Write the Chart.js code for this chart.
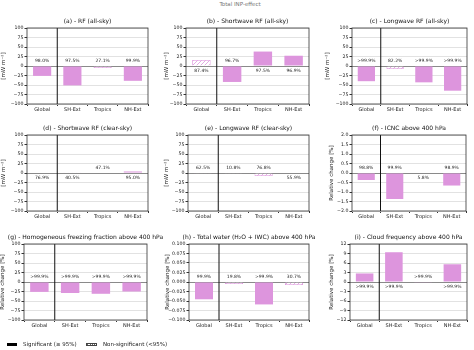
<!DOCTYPE html>
<html lang="en">
<head>
<meta charset="UTF-8">
<title>Total INP-effect</title>
<script src="https://cdn.jsdelivr.net/npm/chart.js"></script>
<style>
  body { margin: 0; background: #fff; font-family: 'DejaVu Sans', sans-serif; }
  #fig { position: relative; width: 474px; height: 350px; overflow: hidden; }
  #fig canvas { position: absolute; left: 0; }
  #suptitle { position: absolute; top: 1px; left: 3px; width: 474px; text-align: center; font-size: 5.5px; color: #777; }
  .leg { position: absolute; top: 341px; font-size: 5.5px; color: #222; display: flex; align-items: center; }
  .sw { width: 10px; height: 3px; margin-right: 6px; box-sizing: border-box; }
</style>
</head>
<body>
<div id="fig">
  <div id="suptitle">Total INP-effect</div>
  <canvas id="pa" width="474" height="102"></canvas>
  <canvas id="pb" width="474" height="102"></canvas>
  <canvas id="pc" width="474" height="102"></canvas>
  <canvas id="pd" width="474" height="102"></canvas>
  <canvas id="pe" width="474" height="102"></canvas>
  <canvas id="pf" width="474" height="102"></canvas>
  <canvas id="pg" width="474" height="102"></canvas>
  <canvas id="ph" width="474" height="102"></canvas>
  <canvas id="pi" width="474" height="102"></canvas>
  <div class="leg" style="left:7px"><div class="sw" style="background:#000"></div>Significant (≥ 95%)</div>
  <div class="leg" style="left:86px"><div class="sw" style="width:11px;border:0.5px solid #444;background:repeating-linear-gradient(-45deg,#fff 0 1px,#666 1px 1.6px)"></div>Non-significant (&lt;95%)</div>
</div>

<script>
  const regions = ['Global', 'SH-Ext', 'Tropics', 'NH-Ext'];

  // (a) - (e) radiative forcing [mW m-2]
  const rfAll = [-26, -51, -5, -39];
  const rfAllPct = ['98.0%', '97.5%', '27.1%', '99.9%'];
  const swAll = [16, -42, 38, 27];
  const swAllPct = ['87.4%', '96.7%', '97.5%', '96.9%'];
  const lwAll = [-40, -8, -43, -65];
  const lwAllPct = ['>99.9%', '82.2%', '>99.9%', '>99.9%'];
  const swClear = [1.5, 0.6, -1, 4];
  const swClearPct = ['76.9%', '40.5%', '47.1%', '95.0%'];
  const lwClear = [-2, -0.5, -8, 1];
  const lwClearPct = ['62.5%', '10.8%', '76.8%', '55.9%'];

  // (f) - (i) relative change [%]
  const icnc = [-0.37, -1.37, 0.02, -0.66];
  const icncPct = ['98.8%', '99.9%', '5.8%', '98.9%'];
  const homFrac = [-26, -29, -31, -25];
  const homFracPct = ['>99.9%', '>99.9%', '>99.9%', '>99.9%'];
  const totWater = [-0.0455, -0.005, -0.059, -0.008];
  const totWaterPct = ['99.9%', '19.8%', '>99.9%', '30.7%'];
  const cloudFreq = [2.7, 9.4, -0.2, 5.6];
  const cloudFreqPct = ['>99.9%', '>99.9%', '>99.9%', '>99.9%'];

  const barColor = '#dd95dd';
  const rfUnit = '[mW m\u207B\u00B2]';
  const relUnit = 'Relative change [%]';

  function hatch() {
    const c = document.createElement('canvas');
    c.width = 4; c.height = 4;
    const g = c.getContext('2d');
    g.fillStyle = '#fff';
    g.fillRect(0, 0, 4, 4);
    g.strokeStyle = barColor;
    g.lineWidth = 0.8;
    g.beginPath();
    g.moveTo(0, 4); g.lineTo(4, 0);
    g.moveTo(-1, 1); g.lineTo(1, -1);
    g.moveTo(3, 5); g.lineTo(5, 3);
    g.stroke();
    return g.createPattern(c, 'repeat');
  }
  const hatchFill = hatch();

  const panelDeco = {
    id: 'panelDeco',
    afterDatasetsDraw(chart, args, opts) {
      const { ctx, chartArea: a, scales: { x, y } } = chart;
      const vals = chart.data.datasets[0].data;
      const y0 = y.getPixelForValue(0);
      ctx.save();
      ctx.textAlign = 'center';
      ctx.textBaseline = 'middle';
      ctx.fillStyle = '#222';
      ctx.font = '4.5px "DejaVu Sans"';
      chart.getDatasetMeta(0).data.forEach((bar, i) => {
        ctx.fillText(opts.pct[i], bar.x, y0 + (vals[i] < 0 ? -5.5 : 5));
      });
      // divider between Global and the regions
      const xd = (x.getPixelForValue(0) + x.getPixelForValue(1)) / 2;
      ctx.strokeStyle = '#111';
      ctx.lineWidth = 1;
      ctx.beginPath();
      ctx.moveTo(xd, a.top);
      ctx.lineTo(xd, a.bottom);
      ctx.stroke();
      ctx.strokeStyle = '#333';
      ctx.lineWidth = 0.8;
      ctx.strokeRect(a.left, a.top, a.right - a.left, a.bottom - a.top);
      ctx.fillStyle = '#111';
      ctx.font = '6px "DejaVu Sans"';
      ctx.fillText(opts.title, (a.left + a.right) / 2, a.top - 6.5);
      ctx.restore();
    }
  };

  function minus(v, dec) {
    const s = Math.abs(v).toFixed(dec);
    return (v < -1e-9 ? '\u2212' : '') + s;
  }

  function panel(id, top, yLab, left, right, title, data, pct, unit, ymin, ymax, step, dec) {
    const cv = document.getElementById(id);
    cv.style.top = (top - 14) + 'px';
    const sig = pct.map(p => parseFloat(p.replace('>', '')) >= 95);
    new Chart(cv, {
      type: 'bar',
      data: {
        labels: regions,
        datasets: [{
          data: data,
          backgroundColor: sig.map(s => s ? barColor : hatchFill),
          borderColor: barColor,
          borderWidth: sig.map(s => s ? 0 : 0.8),
          barPercentage: 0.6,
          categoryPercentage: 1
        }]
      },
      options: {
        responsive: false,
        animation: false,
        layout: { padding: { top: 14, left: yLab - 4, right: 474 - right, bottom: 0 } },
        plugins: {
          legend: { display: false },
          tooltip: { enabled: false },
          panelDeco: { title: title, pct: pct }
        },
        scales: {
          x: {
            grid: { drawOnChartArea: false, tickLength: 2, tickColor: '#333' },
            border: { display: false },
            ticks: { font: { size: 5, family: 'DejaVu Sans' }, color: '#222', padding: 1, maxRotation: 0, autoSkip: false },
            afterFit: s => { s.height = 12; }
          },
          y: {
            min: ymin,
            max: ymax,
            border: { display: false },
            grid: {
              color: c => (c.tick && Math.abs(c.tick.value) < 1e-9) ? '#8a8a8a' : '#e2e2e2',
              tickColor: '#333',
              tickLength: 2.5
            },
            ticks: {
              stepSize: step,
              font: { size: 4.7, family: 'DejaVu Sans' },
              color: '#222',
              padding: 1,
              callback: v => minus(v, dec)
            },
            title: { display: true, text: unit, font: { size: 5.5, family: 'DejaVu Sans' }, color: '#222', padding: 0 },
            afterFit: s => { s.width = left - (yLab - 4); }
          }
        }
      },
      plugins: [panelDeco]
    });
  }

  panel('pa', 28, 4, 27, 148, '(a) - RF (all-sky)', rfAll, rfAllPct, rfUnit, -100, 100, 25, 0);
  panel('pb', 28, 167, 186, 309, '(b) - Shortwave RF (all-sky)', swAll, swAllPct, rfUnit, -100, 100, 25, 0);
  panel('pc', 28, 328, 352, 467, '(c) - Longwave RF (all-sky)', lwAll, lwAllPct, rfUnit, -100, 100, 25, 0);
  panel('pd', 135, 4, 27, 148, '(d) - Shortwave RF (clear-sky)', swClear, swClearPct, rfUnit, -100, 100, 25, 0);
  panel('pe', 135, 167, 188, 309, '(e) - Longwave RF (clear-sky)', lwClear, lwClearPct, rfUnit, -100, 100, 25, 0);
  panel('pf', 135, 332, 352, 466, '(f) - ICNC above 400 hPa', icnc, icncPct, relUnit, -2, 2, 0.5, 1);
  panel('pg', 244, 3, 24, 147, '(g) - Homogeneous freezing fraction above 400 hPa', homFrac, homFracPct, relUnit, -100, 100, 25, 0);
  panel('ph', 244, 168, 189, 309, '(h) - Total water (H\u2082O + IWC) above 400 hPa', totWater, totWaterPct, relUnit, -0.1, 0.1, 0.025, 3);
  panel('pi', 244, 332, 350, 467, '(i) - Cloud frequency above 400 hPa', cloudFreq, cloudFreqPct, relUnit, -12, 12, 3, 0);
</script>
</body>
</html>
